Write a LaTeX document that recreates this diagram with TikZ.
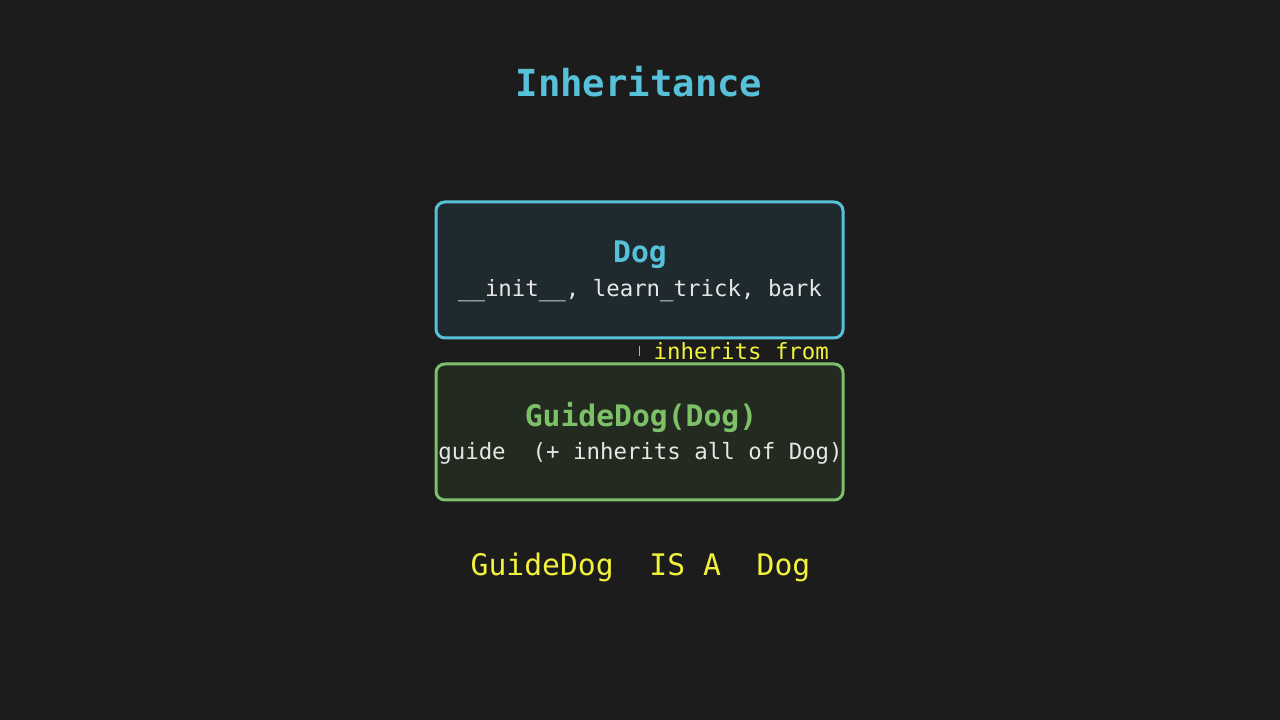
\documentclass[tikz,border=0pt]{standalone}
\usepackage{fontspec}
\setmonofont{DejaVu Sans Mono}
\usetikzlibrary{positioning}
\definecolor{bgdark}{HTML}{1C1C1C}
\definecolor{dogcyan}{HTML}{56C1D9}
\definecolor{dogfill}{HTML}{1F2A2E}
\definecolor{guidegreen}{HTML}{7CC068}
\definecolor{guidefill}{HTML}{232B20}
\definecolor{noteyellow}{HTML}{F2F23C}
\definecolor{methodgray}{HTML}{E6E6E6}
\tikzset{
  classbox/.style={draw, line width=0.85pt, rounded corners=2.5pt, minimum width=4.07cm, minimum height=1.36cm, inner sep=0pt},
  classname/.style={font=\ttfamily\bfseries\fontsize{8.45pt}{9pt}\selectfont, inner sep=0pt},
  methods/.style={font=\ttfamily\fontsize{6.37pt}{7pt}\selectfont, text=methodgray, inner sep=0pt},
}
\begin{document}
\begin{tikzpicture}
        \fill[bgdark] (0,0) rectangle (12.8,7.2);
        \useasboundingbox (0,0) rectangle (12.8,7.2);

        \node[font=\ttfamily\bfseries\fontsize{10.6pt}{11pt}\selectfont, text=dogcyan] (title) at (6.39,6.385) {Inheritance};

        \node[classbox, draw=dogcyan, fill=dogfill] (dog) at (6.395,4.50) {};
        \node[classname, text=dogcyan] (dogname) at (6.40,4.65) {Dog};
        \node[methods] (dogmeth) at (6.40,4.295) {\_\_init\_\_, learn\_trick, bark};

        \node[classbox, draw=guidegreen, fill=guidefill] (guide) at (6.395,2.88) {};
        \node[classname, text=guidegreen] (guidename) at (6.41,3.02) {GuideDog(Dog)};
        \node[methods] (guidemeth) at (6.405,2.665) {guide\ \ (+ inherits all of Dog)};

        \draw[gray!60, line width=0.5pt, shorten <=0.065cm, shorten >=0.065cm] (guide.north) -- (dog.south);
        \node[methods, text=noteyellow, anchor=west] (inh) at (6.53,3.685) {inherits from};

        \node[font=\ttfamily\fontsize{8.45pt}{9pt}\selectfont, text=noteyellow] (isa) at (6.405,1.525) {GuideDog\ \ IS A\ \ Dog};
\end{tikzpicture}
\end{document}
